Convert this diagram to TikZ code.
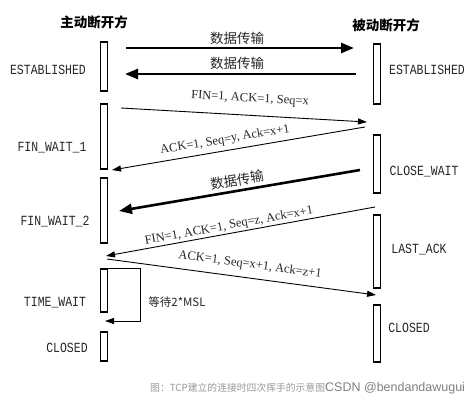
\documentclass[tikz,border=0pt]{standalone}
\usepackage{fontspec}
\setmainfont{Liberation Serif}
\newfontfamily\cjk{Noto Sans CJK SC}
\newfontfamily\statefont[FakeStretch=0.82]{Liberation Mono}
\newfontfamily\sansf{Liberation Sans}
\usetikzlibrary{arrows.meta}
\begin{document}
\begin{tikzpicture}[x=1pt,y=-1pt,
  bar/.style={draw=black, line width=1.1pt, fill=white, minimum width=6.5pt, inner sep=0pt},
  state/.style={font=\statefont\fontsize{14}{16}\selectfont, inner sep=0pt, text=black!85},
  msg/.style={font=\fontsize{12.5}{14}\selectfont, inner sep=0pt, text=black!85},
  cjklabel/.style={font=\cjk\fontsize{13.5}{15}\selectfont, inner sep=0pt, text=black!85},
  head/.style={font=\cjk\bfseries\fontsize{13.5}{15}\selectfont, inner sep=0pt},
  thinarrow/.style={line width=0.9pt, -{Triangle[length=9pt,width=6pt]}},
  thickarrow/.style={line width=2.6pt, -{Triangle[length=13pt,width=10pt]}},
]
\useasboundingbox (0,0) rectangle (474,406);
\fill[white] (0,0) rectangle (474,406);

% headers
\node[head] (hl) at (94,22) {主动断开方};
\node[head] (hr) at (386,25) {被动断开方};

% left bars
\node[bar, minimum height=49pt] (L1) at (104,66.5) {};
\node[bar, minimum height=65pt] (L2) at (104,136.5) {};
\node[bar, minimum height=65pt] (L3) at (104,210.5) {};
\node[bar, minimum height=43pt] (L4) at (104,290.5) {};
\node[bar, minimum height=29pt] (L5) at (104,346.5) {};
% right bars
\node[bar, minimum height=60pt] (R1) at (377,74) {};
\node[bar, minimum height=58pt] (R2) at (377,164) {};
\node[bar, minimum height=73pt] (R3) at (377,251.5) {};
\node[bar, minimum height=57pt] (R4) at (377,333.5) {};

% state labels
\node[state] (s1) at (48,70) {ESTABLISHED};
\node[state] (s2) at (52,148) {FIN\_WAIT\_1};
\node[state] (s3) at (55,222) {FIN\_WAIT\_2};
\node[state] (s4) at (55,303) {TIME\_WAIT};
\node[state] (s5) at (67,348) {CLOSED};
\node[state] (s6) at (427,70) {ESTABLISHED};
\node[state] (s7) at (424,172) {CLOSE\_WAIT};
\node[state] (s8) at (419,250) {LAST\_ACK};
\node[state] (s9) at (409,328) {CLOSED};

% arrow end points
\coordinate (a1s) at (126,48);  \coordinate (a1e) at (354,48);
\coordinate (a2s) at (356,74);  \coordinate (a2e) at (125,74);
\coordinate (a3s) at (121,108); \coordinate (a3e) at (367,122);
\coordinate (a4s) at (365,127); \coordinate (a4e) at (112,170);
\coordinate (a5s) at (360,170); \coordinate (a5e) at (119,211);
\coordinate (a6s) at (375,207); \coordinate (a6e) at (106,256);
\coordinate (a7s) at (107,259); \coordinate (a7e) at (376,295);
\coordinate (w1) at (140,321);  \coordinate (w2) at (105,321);

\draw[thickarrow] (a1s) -- (a1e);
\draw[thickarrow] (a2s) -- (a2e);
\draw[thinarrow] (a3s) -- (a3e);
\draw[thinarrow] (a4s) -- (a4e);
\draw[thickarrow] (a5s) -- (a5e);
\draw[thinarrow] (a6s) -- (a6e);
\draw[thinarrow] (a7s) -- (a7e);
\draw[thinarrow] (L4.north east) -| (w1) -- (w2);

% message labels
\node[cjklabel] (m1) at (237,38) {数据传输};
\node[cjklabel] (m2) at (237,63) {数据传输};
\node[msg, rotate=-3.3] (m3) at (250,99) {FIN=1, ACK=1, Seq=x};
\node[msg, rotate=9.6] (m4) at (225,140) {ACK=1, Seq=y, Ack=x+1};
\node[cjklabel, rotate=9.7] (m5) at (237,180) {数据传输};
\node[msg, rotate=10.3] (m6) at (229,226) {FIN=1, ACK=1, Seq=z, Ack=x+1};
\node[msg, rotate=-7.6] (m7) at (250,265) {ACK=1, Seq=x+1, Ack=z+1};
\node[font=\cjk\fontsize{11.5}{13}\selectfont, inner sep=0pt, text=black!85] (m8) at (177,302) {等待2*MSL};

% caption
\node[font=\cjk\fontsize{9.8}{12}\selectfont, text=black!40, anchor=west, inner sep=0pt] (cap) at (150,388) {图：TCP建立的连接时四次挥手的示意图};
\node[font=\sansf\fontsize{12.5}{14}\selectfont, text=black!50, anchor=west, inner sep=0pt] (csdn) at (325,388) {CSDN @bendandawugui};
\end{tikzpicture}
\end{document}
